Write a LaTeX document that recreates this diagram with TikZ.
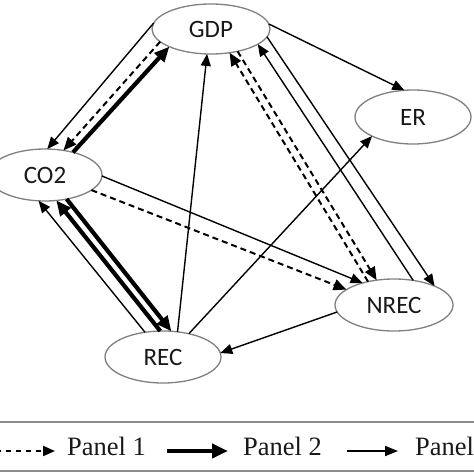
\documentclass[tikz,border=0pt]{standalone}
\usepackage{fontspec}
\setmainfont{Liberation Serif}
\newfontfamily\nodefont{Carlito}
\usetikzlibrary{arrows.meta,shapes.geometric}
\begin{document}
\begin{tikzpicture}[x=1pt,y=-1pt,
  var/.style={ellipse,draw=black!50,line width=1.3pt,fill=white,inner sep=0pt,outer sep=0pt,
    font=\nodefont\fontsize{25}{25}\selectfont,text=black!90},
  thinarr/.style={line width=1.4pt,-{Triangle[length=12pt,width=10pt]}},
  dasharr/.style={line width=2pt,dash pattern=on 6pt off 4pt,-{Triangle[length=13pt,width=11pt]}},
  thickarr/.style={line width=4.2pt,-{Triangle[length=15pt,width=13pt]}},
  legtext/.style={anchor=base west,inner sep=0pt,font=\fontsize{26.5}{26.5}\selectfont,text=black!90}]
\useasboundingbox (0,0) rectangle (474,474);
% legend frame
\draw[black!45,line width=1.5pt] (-10,422) -- (490,422);
\draw[black!45,line width=2.5pt] (-10,471) -- (490,471);
% nodes
\node[var,minimum width=118pt,minimum height=50pt] (GDP) at (211,29) {GDP};
\node[var,minimum width=116pt,minimum height=54pt] (ER) at (413,117) {ER};
\node[var,minimum width=114pt,minimum height=52pt] (CO2) at (45,175) {CO2};
\node[var,minimum width=118pt,minimum height=52pt] (NREC) at (394,305) {NREC};
\node[var,minimum width=116pt,minimum height=52pt] (REC) at (163,357) {REC};
% GDP - CO2
\draw[thinarr] (GDP.174.6) -- (CO2.85.8);
\draw[dasharr] (GDP.194.5) -- (CO2.53.5);
\draw[thickarr] (CO2.39.3) -- (GDP.203.4);
% REC -> GDP
\draw[thinarr] (REC.60.9) -- (GDP.261.3);
% GDP - NREC
\draw[thinarr] (NREC.52.4) -- (GDP.342.9);
\draw[thinarr] (GDP.352.1) -- (NREC.25.3);
\draw[dasharr] (GDP.320.4) -- (NREC.125.9);
\draw[dasharr] (NREC.138.9) -- (GDP.308.9);
% to ER
\draw[thinarr] (GDP.5.9) -- (ER.108.4);
\draw[thinarr] (REC.42) -- (ER.205.3);
% CO2 -> NREC
\draw[thinarr] (CO2.359) -- (NREC.145.3);
\draw[dasharr] (CO2.342.6) -- (NREC.162.5);
% NREC -> REC
\draw[thinarr] (NREC.187.7) -- (REC.4.8);
% CO2 - REC
\draw[thinarr] (REC.126.5) -- (CO2.256);
\draw[thickarr] (REC.96.3) -- (CO2.294.9);
\draw[thickarr] (CO2.312.8) -- (REC.72.8);
% legend
\coordinate (l1a) at (-4,451);
\coordinate (l1b) at (55,451);
\coordinate (l2a) at (167,451);
\coordinate (l2b) at (228,451);
\coordinate (l3a) at (347,451);
\coordinate (l3b) at (398,451);
\draw[line width=2pt,dash pattern=on 5pt off 5pt,-{Triangle[length=12pt,width=10pt]}] (l1a) -- (l1b);
\draw[line width=4.6pt,-{Triangle[length=16pt,width=14pt]}] (l2a) -- (l2b);
\draw[line width=1.8pt,-{Triangle[length=13pt,width=10pt]}] (l3a) -- (l3b);
\node[legtext] (p1) at (67,455) {Panel 1};
\node[legtext] (p2) at (243,455) {Panel 2};
\node[legtext] (p3) at (415,455) {Panel 3};
\end{tikzpicture}
\end{document}
